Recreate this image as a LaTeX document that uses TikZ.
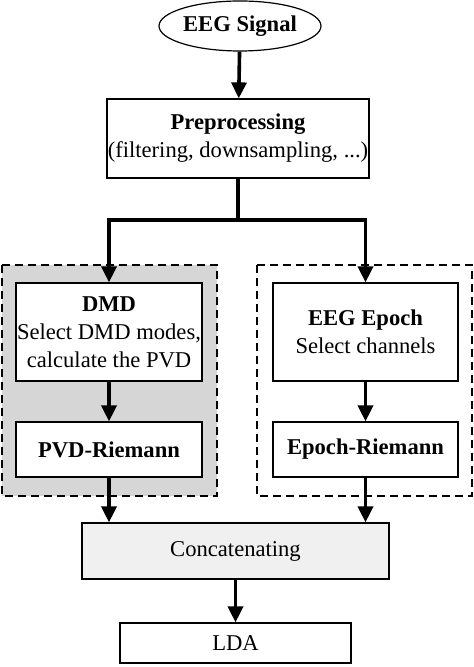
\documentclass[tikz,border=0pt]{standalone}
\usepackage{fontspec}
\setmainfont{Liberation Serif}
\usetikzlibrary{arrows.meta,shapes.geometric}
\newcommand{\boxw}{0.6pt}
\newcommand{\arrw}{1.8pt}

\begin{document}
\begin{tikzpicture}[x=0.5pt,y=-0.5pt,
    font=\fontsize{11.3}{14}\selectfont,
    blk/.style={draw, line width=\boxw, align=center, inner sep=0pt},
    grp/.style={draw, dashed, dash pattern=on 4pt off 2.5pt, line width=\boxw},
    flow/.style={line width=\arrw, -{Triangle[width=7.5pt,length=8pt]}},
    ]
    \useasboundingbox (0,0) rectangle (474,667);
    %\draw[help lines] (0,0) grid (474,667);
    % dashed groups
    \draw[grp, fill=black!16] (2,265) rectangle (217,496);
    \draw[grp] (257,265) rectangle (472,496);
    % blocks
    \node[blk, ellipse, minimum width=81pt, minimum height=25pt] (sig) at (240,26) {\textbf{EEG Signal}};
    \node[blk, minimum width=131pt, minimum height=39.5pt] (pre) at (238,138.5)
        {\textbf{Preprocessing}\\(filtering, downsampling, ...)};
    \node[blk, fill=white, minimum width=93pt, minimum height=49pt] (dmd) at (109,332)
        {\textbf{DMD}\\Select DMD modes,\\calculate the PVD};
    \node[blk, fill=white, minimum width=93pt, minimum height=27.5pt] (pvd) at (109,449.5) {\textbf{PVD-Riemann}};
    \node[blk, minimum width=92.5pt, minimum height=49pt] (epo) at (365.5,332)
        {\textbf{EEG Epoch}\\Select channels};
    \node[blk, minimum width=92.5pt, minimum height=27.5pt] (epr) at (365.5,449.5) {\textbf{Epoch-Riemann}};
    \node[blk, fill=black!6, minimum width=153.5pt, minimum height=28pt] (cat) at (235.5,551) {Concatenating};
    \node[blk, minimum width=115.5pt, minimum height=20pt] (lda) at (235.5,643) {LDA};
    % connectors
    \coordinate (split) at (238,220);
    \draw[flow] (sig) -- (pre);
    \draw[line width=\arrw] (pre.south) -- (split);
    \draw[flow] (split) -| (dmd.north);
    \draw[flow] (split) -| (epo.north);
    \draw[flow] (dmd) -- (pvd);
    \draw[flow] (epo) -- (epr);
    \draw[flow] (pvd.south) -- (pvd.south |- cat.north);
    \draw[flow] (epr.south) -- (epr.south |- cat.north);
    \draw[flow] (cat) -- (lda);
\end{tikzpicture}
\end{document}
